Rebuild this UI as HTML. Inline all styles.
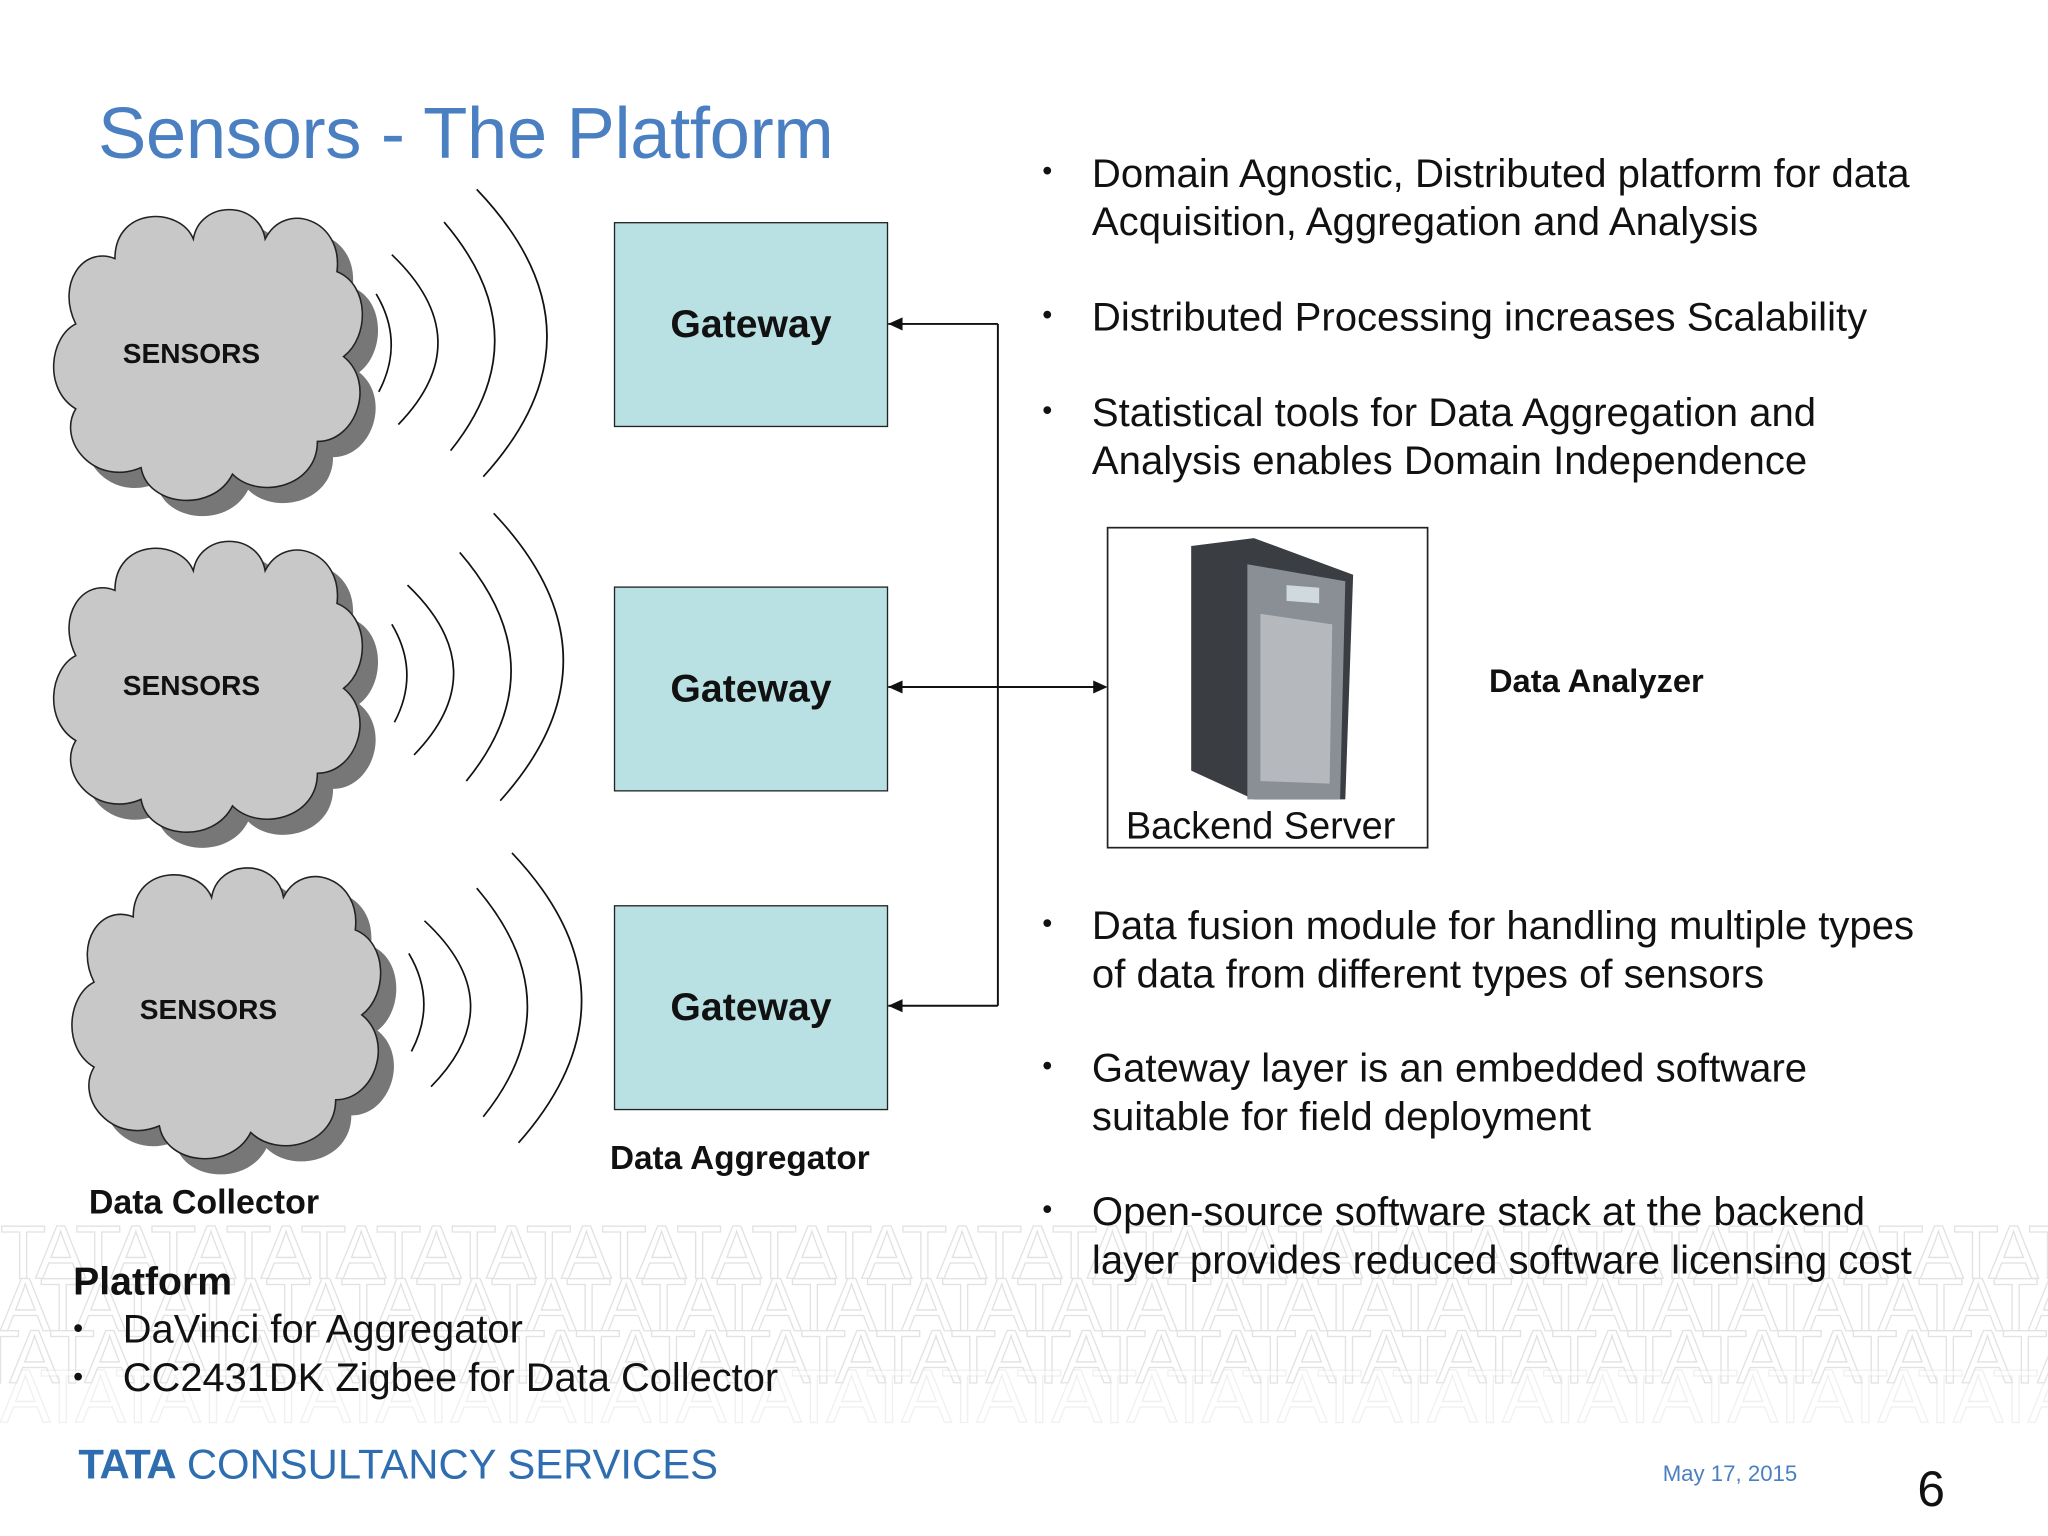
<!DOCTYPE html>
<html><head><meta charset="utf-8"><style>
html,body{margin:0;padding:0;background:#fff;}
#wrap{width:1568px;height:1176px;position:relative;transform:scale(1.30612);transform-origin:0 0;overflow:hidden;font-family:"Liberation Sans",Arial,sans-serif;}
.t{position:absolute;white-space:nowrap;color:#111;}
.gw{position:absolute;left:470px;width:208px;background:#b9e0e3;border:1.5px solid #222;display:flex;align-items:center;justify-content:center;font-weight:bold;font-size:30px;color:#111;}
.b{position:absolute;font-size:30.7px;line-height:37px;color:#111;white-space:nowrap;}
.b .d{position:absolute;left:-38px;top:-2px;font-size:22px;}
.wm{position:absolute;left:0;font-size:58px;color:#fff;-webkit-text-stroke:1px #e2e2e2;letter-spacing:-4px;white-space:nowrap;font-family:"Liberation Sans",sans-serif;}
</style></head><body><div id="wrap">
<div class="wm" style="top:926px;">TATATATATATATATATATATATATATATATATATATATATATATATATATATATATATATATATA</div>
<div class="wm" style="top:966px;">ATATATATATATATATATATATATATATATATATATATATATATATATATATATATATATATATAT</div>
<div class="wm" style="top:1006px;left:-20px;">TATATATATATATATATATATATATATATATATATATATATATATATATATATATATATATATATA</div>
<div class="wm" style="top:1036px;opacity:.5">ATATATATATATATATATATATATATATATATATATATATATATATATATATATATATATATATAT</div>

<div class="t" style="left:75px;top:70px;font-size:55.5px;color:#4a7fc1;letter-spacing:-0.3px;">Sensors - The Platform</div>

<svg style="position:absolute;left:0;top:0" width="1568" height="1176">
<defs>
<path id="cl" d="M-70,-80 C-70,-120 -20,-120 -10,-95 C-5,-125 40,-125 45,-95 C60,-125 105,-110 100,-70 C125,-60 125,-20 105,-5 C130,15 115,60 85,60 C85,95 40,105 20,85 C5,115 -45,110 -50,80 C-85,95 -115,60 -100,35 C-125,20 -120,-20 -100,-30 C-115,-60 -95,-90 -70,-80 Z"/>
</defs>
<g stroke="#222" stroke-width="1.2">
<g transform="translate(158,278)"><use href="#cl" fill="#777" stroke="none" transform="translate(12,12)"/><use href="#cl" fill="#c8c8c8"/></g>
<g transform="translate(158,532)"><use href="#cl" fill="#777" stroke="none" transform="translate(12,12)"/><use href="#cl" fill="#c8c8c8"/></g>
<g transform="translate(172,782)"><use href="#cl" fill="#777" stroke="none" transform="translate(12,12)"/><use href="#cl" fill="#c8c8c8"/></g>
</g>
<g fill="none" stroke="#111" stroke-width="1.3">
<path d="M288,225 Q310,262 290,300"/><path d="M300,195 Q368,260 305,325"/><path d="M340,170 Q415,258 345,345"/><path d="M365,145 Q470,255 370,365"/>
<path d="M300,478 Q322,515 302,553"/><path d="M312,448 Q380,513 317,578"/><path d="M352,423 Q428,511 357,598"/><path d="M378,393 Q482,503 383,613"/>
<path d="M313,730 Q335,767 315,805"/><path d="M325,705 Q393,768 330,832"/><path d="M365,680 Q440,768 370,855"/><path d="M392,653 Q496,763 397,875"/>
<path d="M764,248 V770 M680,248 H764 M680,526 H845 M680,770 H764" stroke-width="1.5"/>
</g>
<g fill="#111"><path d="M680,248 l11,-5 v10z"/><path d="M680,526 l11,-5 v10z"/><path d="M680,770 l11,-5 v10z"/><path d="M848,526 l-11,-5 v10z"/></g>
<rect x="848" y="404" width="245" height="245" fill="#fff" stroke="#222" stroke-width="1.3"/>
<path d="M912,418 L960,412 L1036,440 L1030,612 L960,612 L912,590 Z" fill="#3a3d42"/>
<path d="M955,432 L1030,445 L1026,612 L955,612 Z" fill="#8a8f96"/>
<path d="M965,470 L1020,478 L1018,600 L965,598 Z" fill="#b5b9bd"/>
<path d="M985,448 L1010,450 L1010,462 L985,460Z" fill="#d0d8e0"/>
</svg>

<div class="t" style="left:94px;top:259px;font-size:21.5px;font-weight:bold;">SENSORS</div>
<div class="t" style="left:94px;top:513px;font-size:21.5px;font-weight:bold;">SENSORS</div>
<div class="t" style="left:107px;top:761px;font-size:21.5px;font-weight:bold;">SENSORS</div>

<div class="gw" style="top:170px;height:155px;">Gateway</div>
<div class="gw" style="top:449px;height:155px;">Gateway</div>
<div class="gw" style="top:693px;height:155px;">Gateway</div>

<div class="t" style="left:862px;top:617px;font-size:29px;">Backend Server</div>
<div class="t" style="left:1140px;top:508px;font-size:25px;font-weight:bold;">Data Analyzer</div>
<div class="t" style="left:467px;top:873px;font-size:25.5px;font-weight:bold;">Data Aggregator</div>
<div class="t" style="left:68px;top:905px;font-size:26px;font-weight:bold;">Data Collector</div>

<div class="b" style="left:836px;top:114px;"><span class="d">•</span>Domain Agnostic, Distributed platform for data<br>Acquisition, Aggregation and Analysis</div>
<div class="b" style="left:836px;top:224px;"><span class="d">•</span>Distributed Processing increases Scalability</div>
<div class="b" style="left:836px;top:297px;"><span class="d">•</span>Statistical tools for Data Aggregation and<br>Analysis enables Domain Independence</div>
<div class="b" style="left:836px;top:690px;"><span class="d">•</span>Data fusion module for handling multiple types<br>of data from different types of sensors</div>
<div class="b" style="left:836px;top:799px;"><span class="d">•</span>Gateway layer is an embedded software<br>suitable for field deployment</div>
<div class="b" style="left:836px;top:909px;"><span class="d">•</span>Open-source software stack at the backend<br>layer provides reduced software licensing cost</div>

<div class="t" style="left:56px;top:965px;font-size:30px;font-weight:bold;">Platform</div>
<div class="b" style="left:94px;top:1000px;font-size:30.5px;"><span class="d">•</span>DaVinci for Aggregator</div>
<div class="b" style="left:94px;top:1037px;font-size:30.5px;"><span class="d">•</span>CC2431DK Zigbee for Data Collector</div>

<div class="t" style="left:60px;top:1103px;font-size:32px;color:#2e6db0;"><b style="letter-spacing:-1px">TATA</b> CONSULTANCY SERVICES</div>
<div class="t" style="left:1273px;top:1119px;font-size:17px;color:#4a7fc1;">May 17, 2015</div>
<div class="t" style="left:1468px;top:1120px;font-size:38px;">6</div>
</div></body></html>
